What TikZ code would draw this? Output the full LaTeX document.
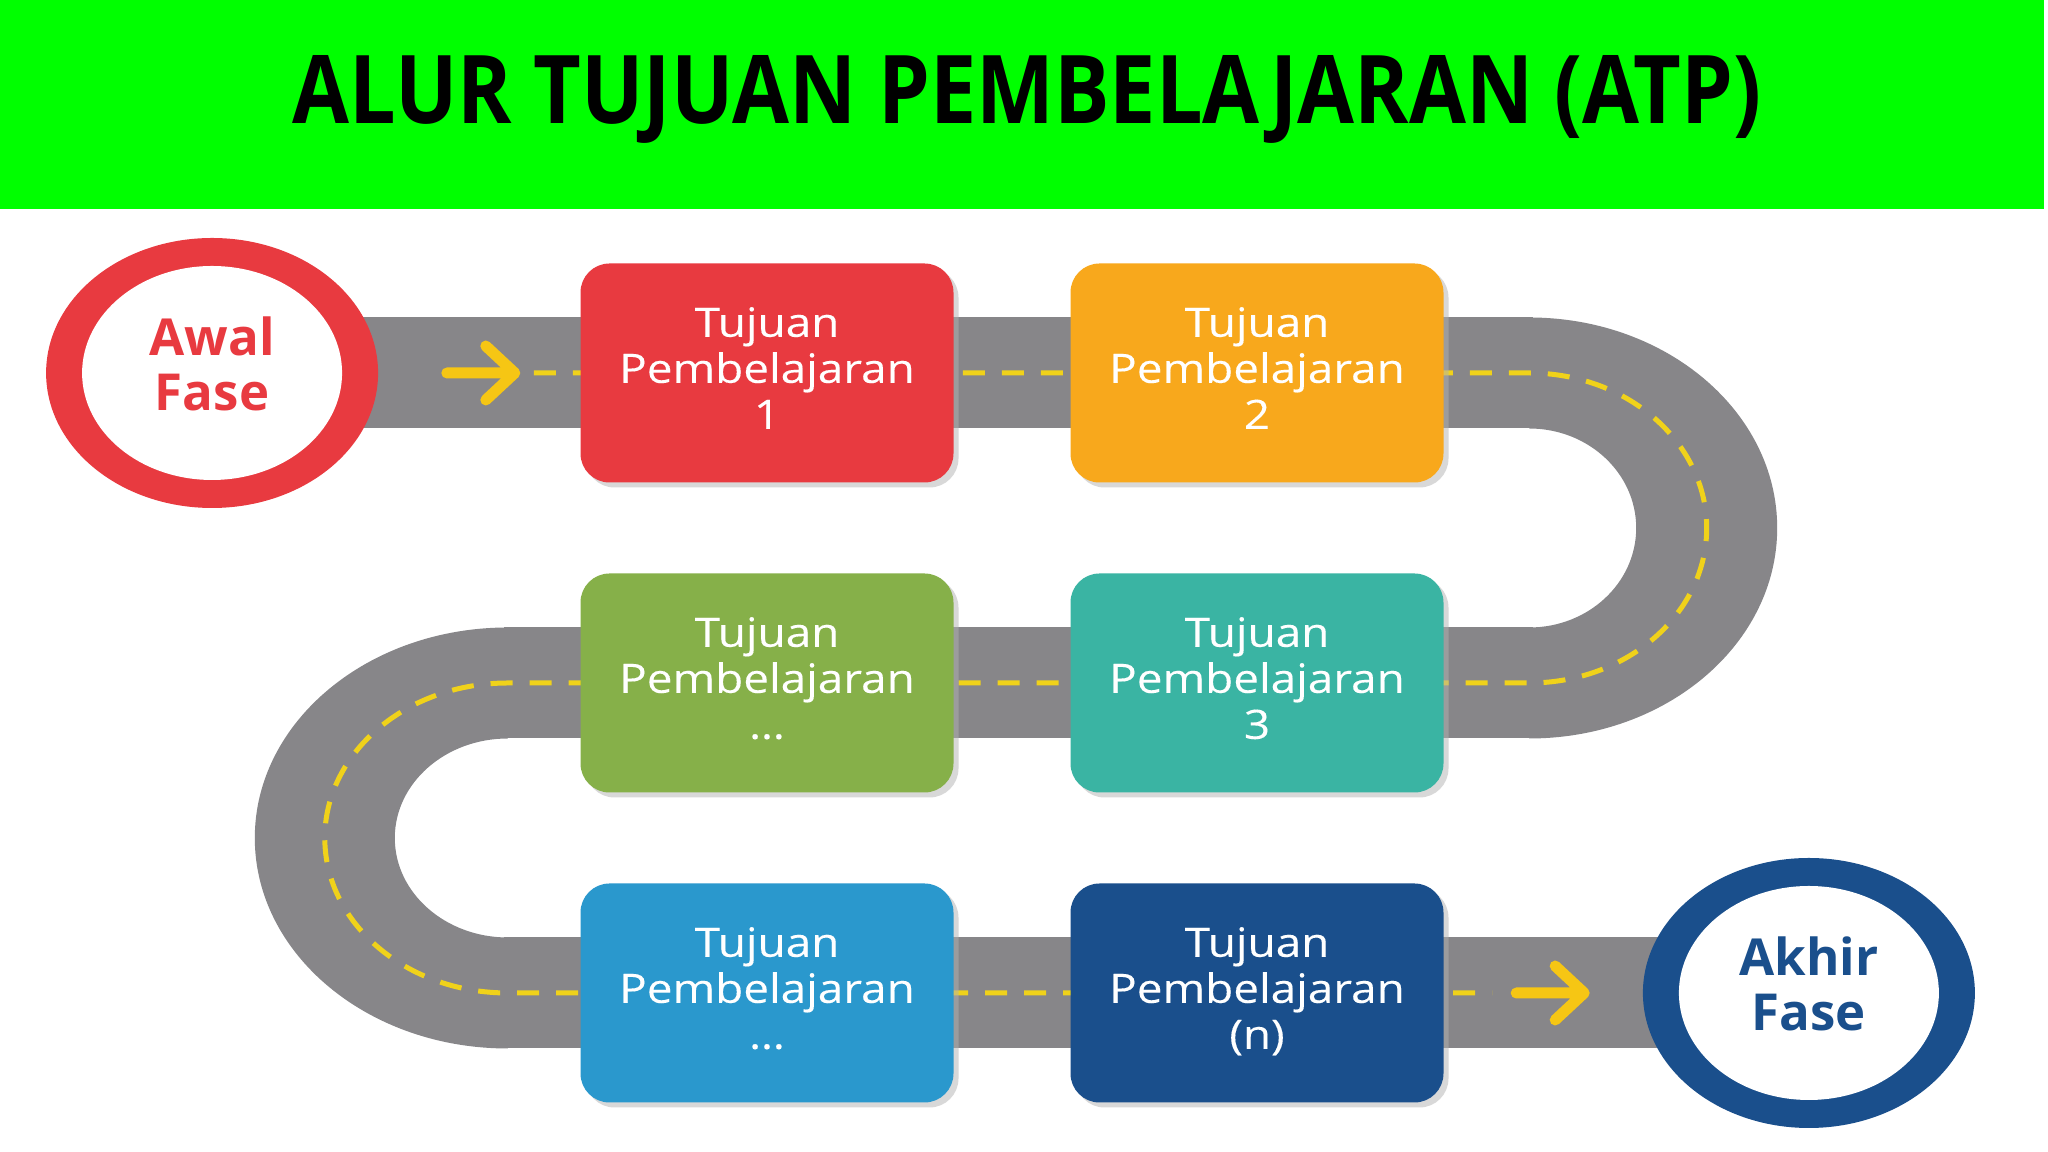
\documentclass[tikz,border=0pt]{standalone}
\usepackage{fontspec}
\usepackage{xcolor}
\setmainfont{Open Sans}
\newfontfamily\titlefont[FakeStretch=0.87]{Open Sans}
\newfontfamily\goalfont[FakeStretch=1.135, FakeBold=0.2]{Open Sans}
\usetikzlibrary{positioning, shapes.geometric, shadows, backgrounds}
\definecolor{bannergreen}{HTML}{00FF00}
\definecolor{roadgray}{HTML}{878689}
\definecolor{laneyellow}{HTML}{F0D21A}
\definecolor{arrowyellow}{HTML}{F6C614}
\definecolor{tpred}{HTML}{E83A40}
\definecolor{tporange}{HTML}{F8A81C}
\definecolor{tpgreen}{HTML}{86B049}
\definecolor{tpteal}{HTML}{3AB4A3}
\definecolor{tpblue}{HTML}{2A98CD}
\definecolor{tpnavy}{HTML}{1A4F8C}
\def\colsep{4.9cm}
\def\rowsep{3.1cm}

\begin{document}
\begin{tikzpicture}
    \tikzstyle{goal}=[rectangle, rounded corners=0.29cm, minimum width=3.73cm, minimum height=2.19cm, inner sep=0pt, text depth=0.1cm, align=center, text=white, font=\goalfont\fontsize{11.5}{13.1}\selectfont, drop shadow={shadow xshift=0.05cm, shadow yshift=-0.05cm, fill=black!30, opacity=0.5}]
    \tikzstyle{phase}=[ellipse, fill=white, minimum width=2.60cm, minimum height=2.14cm, inner sep=0pt, text depth=0.18cm, align=center, font=\bfseries\fontsize{14.5}{15.6}\selectfont]
    \tikzstyle{ring}=[x radius=1.66cm, y radius=1.35cm]
    \tikzstyle{road}=[draw=roadgray, line width=1.11cm]
    \tikzstyle{roadfill}=[fill=roadgray]
    \tikzstyle{laneline}=[draw=laneyellow, line width=0.05cm, dash pattern=on 0.22cm off 0.17cm]
    \tikzstyle{roadarrow}=[draw=arrowyellow, line width=0.11cm, line cap=round, line join=round]

    % page and banner
    \useasboundingbox (0,0) rectangle (20.48,11.52);
    \begin{pgfonlayer}{background}
    \fill[white] (0,0) rectangle (20.48,11.52);
    \end{pgfonlayer}
    \fill[bannergreen] (0,9.43) rectangle (20.44,11.52);
    \node[font=\titlefont\bfseries\fontsize{27}{30}\selectfont, anchor=base] (title) at (10.27,10.28) {ALUR TUJUAN PEMBELAJARAN (ATP)};

    % Draw the learning goal boxes
    \foreach \name/\c/\r/\col/\num in {tp1/0/0/tpred/1, tp2/1/0/tporange/2, tp3/1/1/tpteal/3, tpa/0/1/tpgreen/\ldots, tpb/0/2/tpblue/\ldots, tpn/1/2/tpnavy/(n)}
        \node[goal, fill=\col] (\name) at (7.67cm + \c*\colsep, 7.79cm - \r*\rowsep) {Tujuan\\Pembelajaran\\\num};

    % start and end of the phase
    \node[phase, text=tpred, left=2.37cm of tp1] (awal) {Awal\\Fase};
    \node[phase, text=tpnavy, right=2.34cm of tpn] (akhir) {Akhir\\Fase};

    % turning points of the road
    \coordinate[right=0.85cm of tp2] (r1);
    \coordinate[right=0.85cm of tp3] (r2);
    \coordinate[left=0.72cm of tpa] (l2);
    \coordinate[left=0.72cm of tpb] (l3);
    \coordinate[left=0.65cm of tp1] (a1);
    \coordinate[right=1.4cm of tpn] (a2);

    \begin{pgfonlayer}{background}
    % the road
    \draw[road] (awal.center) -- ([xshift=1pt]r1);
    \draw[road] ([xshift=-1pt]l2) -- ([xshift=1pt]r2);
    \draw[road] ([xshift=-1pt]l3) -- (akhir.center);
    \fill[roadfill] ([yshift=0.555cm]r1) arc[start angle=90, end angle=-90, x radius=2.48cm, y radius=2.105cm]
        -- ([yshift=0.555cm]r2) arc[start angle=-90, end angle=90, x radius=1.07cm, y radius=0.995cm] -- cycle;
    \fill[roadfill] ([yshift=0.555cm]l2) arc[start angle=90, end angle=270, x radius=2.53cm, y radius=2.105cm]
        -- ([yshift=0.555cm]l3) arc[start angle=270, end angle=90, x radius=1.13cm, y radius=0.995cm] -- cycle;

    % rings round start and end
    \fill[tpred] (awal.center) ellipse[ring];
    \fill[tpnavy] (akhir.center) ellipse[ring];

    % dashed middle line
    \draw[laneline] ([xshift=0.19cm]a1) -- (r1)
        arc[start angle=90, end angle=-90, x radius=1.775cm, y radius=1.55cm] -- (l2)
        arc[start angle=90, end angle=270, x radius=1.83cm, y radius=1.55cm] -- ([xshift=-0.92cm]a2);

    % arrows on the road
    \draw[roadarrow] ([xshift=-0.68cm]a1) -- (a1) ([xshift=-0.29cm, yshift=0.27cm]a1) -- (a1) -- ([xshift=-0.29cm, yshift=-0.27cm]a1);
    \draw[roadarrow] ([xshift=-0.68cm]a2) -- (a2) ([xshift=-0.29cm, yshift=0.27cm]a2) -- (a2) -- ([xshift=-0.29cm, yshift=-0.27cm]a2);
    \end{pgfonlayer}

\end{tikzpicture}
\end{document}
